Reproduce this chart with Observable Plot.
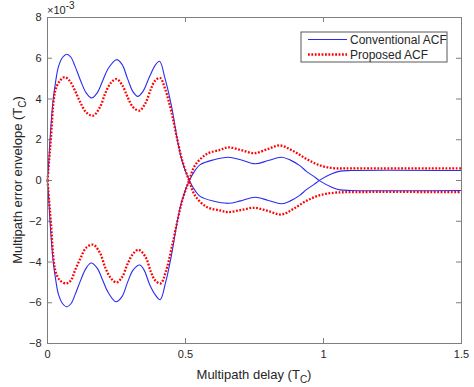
<!DOCTYPE html>
<html><head><meta charset="utf-8">
<script src="https://cdn.jsdelivr.net/npm/d3@7"></script>
<script src="https://cdn.jsdelivr.net/npm/@observablehq/plot@0.6"></script>
<style>body{margin:0;background:#fff}</style>
</head><body><div id="chart"></div>
<script>
// Multipath delay (Tc) and error envelope (x 1e-3 Tc)
const convAX = [0,0.005,0.01,0.02,0.03,0.04,0.055,0.07,0.085,0.1,0.12,0.14,0.16,0.18,0.2,0.22,0.25,0.27,0.29,0.31,0.327,0.345,0.37,0.39,0.406,0.426,0.45,0.471,0.487,0.514,0.535,0.553,0.6,0.655,0.7,0.752,0.8,0.848,0.88,0.914,0.938,0.965,0.988,1.03,1.06,1.1,1.5];
const convAY = [0,1.0,2.2,3.9,4.9,5.6,6.05,6.2,6.05,5.6,4.9,4.3,4.05,4.3,4.9,5.5,5.93,5.7,5.0,4.35,4.13,4.35,5.1,5.65,5.85,5.0,3.6,1.96,0.98,0,-0.5,-0.78,-1.01,-1.12,-1.0,-0.82,-0.98,-1.14,-1.0,-0.73,-0.45,-0.2,0.03,0.33,0.46,0.49,0.49];
const convBX = [0,0.005,0.01,0.02,0.03,0.04,0.055,0.069,0.085,0.1,0.12,0.14,0.158,0.18,0.2,0.22,0.248,0.27,0.29,0.31,0.334,0.35,0.37,0.39,0.408,0.428,0.45,0.471,0.487,0.514,0.535,0.553,0.6,0.655,0.7,0.752,0.8,0.848,0.88,0.914,0.938,0.965,0.988,1.03,1.06,1.1,1.5];
const convBY = [0,-1.0,-2.2,-3.9,-4.9,-5.6,-6.05,-6.2,-6.05,-5.6,-4.9,-4.3,-4.05,-4.3,-4.9,-5.5,-5.95,-5.7,-5.0,-4.4,-4.15,-4.4,-5.1,-5.6,-5.85,-5.0,-3.6,-1.96,-0.98,0,0.5,0.78,1.01,1.14,1.02,0.82,0.98,1.14,1.0,0.73,0.45,0.2,-0.03,-0.33,-0.46,-0.49,-0.49];
const propAX = [0,0.006,0.012,0.023,0.03,0.045,0.062,0.08,0.1,0.12,0.14,0.165,0.19,0.21,0.23,0.25,0.27,0.29,0.31,0.333,0.355,0.375,0.39,0.408,0.426,0.45,0.471,0.49,0.513,0.535,0.577,0.625,0.655,0.7,0.75,0.8,0.848,0.89,0.938,0.987,1.04,1.1,1.5];
const propAY = [0,1.0,2.0,4.0,4.5,4.9,5.07,4.9,4.4,3.8,3.35,3.18,3.6,4.3,4.8,4.98,4.7,4.1,3.6,3.43,3.8,4.5,4.9,5.03,4.5,3.3,1.96,0.9,0,-0.75,-1.3,-1.47,-1.55,-1.45,-1.34,-1.5,-1.67,-1.4,-1.0,-0.72,-0.6,-0.57,-0.57];
const propBX = [0,0.006,0.012,0.023,0.03,0.045,0.068,0.085,0.1,0.12,0.14,0.165,0.19,0.21,0.23,0.25,0.27,0.29,0.31,0.33,0.355,0.375,0.39,0.41,0.428,0.45,0.471,0.49,0.513,0.535,0.577,0.625,0.655,0.7,0.75,0.8,0.842,0.89,0.938,0.987,1.04,1.1,1.5];
const propBY = [0,-1.0,-2.0,-4.0,-4.5,-4.9,-5.05,-4.9,-4.4,-3.8,-3.3,-3.15,-3.55,-4.3,-4.8,-5.0,-4.75,-4.1,-3.6,-3.4,-3.75,-4.5,-4.9,-5.05,-4.5,-3.3,-1.96,-0.9,0,0.75,1.3,1.5,1.63,1.5,1.34,1.55,1.72,1.45,1.06,0.74,0.6,0.6,0.6];
const xTicks = [0,0.5,1,1.5];
const xTickLabels = ["0","0.5","1","1.5"];
const yTicks = [-8,-6,-4,-2,0,2,4,6,8];
const seriesNames = ["Conventional ACF","Proposed ACF"];

const rows = (xs, ys, series, trace) => xs.map((x,i)=>({x, y: ys[i], series, trace}));
const conv = [...rows(convAX,convAY,seriesNames[0],"A"), ...rows(convBX,convBY,seriesNames[0],"B")];
const prop = [...rows(propAX,propAY,seriesNames[1],"A"), ...rows(propBX,propBY,seriesNames[1],"B")];

const W=474,H=387,ML=47,MR=13,MT=17,MB=44;
const PW=W-ML-MR, PH=H-MT-MB;
const axisColor="#7f7f7f", textColor="#262626";
const blue="#2b2bf0", red="#ff0000";
const dash="1.8,1.6";

const plot = Plot.plot({
  width:W, height:H, marginLeft:ML, marginRight:MR, marginTop:MT, marginBottom:MB,
  x:{domain:[0,1.5]}, y:{domain:[-8,8]},
  style:{fontFamily:"'Liberation Sans', Arial, sans-serif", fontSize:"11px", color:textColor, background:"white"},
  marks:[
    Plot.axisX({ticks:xTicks, tickSize:0, tickPadding:7, tickFormat:(d)=>xTickLabels[xTicks.indexOf(d)], label:null}),
    Plot.axisY({ticks:yTicks, tickSize:0, tickPadding:6, label:null}),
    Plot.tickX(xTicks.slice(1,-1), {x:d=>d, insetTop:PH-5, stroke:axisColor}),
    Plot.tickX(xTicks.slice(1,-1), {x:d=>d, insetBottom:PH-5, stroke:axisColor}),
    Plot.tickY(yTicks.slice(1,-1), {y:d=>d, insetRight:PW-5, stroke:axisColor}),
    Plot.tickY(yTicks.slice(1,-1), {y:d=>d, insetLeft:PW-5, stroke:axisColor}),
    Plot.line(conv, {x:"x", y:"y", z:"trace", stroke:blue, strokeWidth:1.1, curve:"catmull-rom"}),
    Plot.line(prop, {x:"x", y:"y", z:"trace", stroke:red, strokeWidth:2.3, strokeDasharray:dash, strokeLinecap:"butt", curve:"catmull-rom"}),
    Plot.frame({stroke:axisColor})
  ]
});
document.getElementById("chart").appendChild(plot);

const svg = d3.select(plot);
const font = "'Liberation Sans', Arial, sans-serif";
// exponent
const ex = svg.append("text").attr("x",ML).attr("y",14).attr("text-anchor","start").attr("font-family",font).attr("font-size",11).attr("fill",textColor);
ex.append("tspan").text("\u00d710");
ex.append("tspan").attr("dy",-5).attr("font-size",10).text("-3");
// x label
const xl = svg.append("text").attr("x",ML+PW/2).attr("y",H-8).attr("text-anchor","middle").attr("font-family",font).attr("font-size",13).attr("fill",textColor);
xl.append("tspan").text("Multipath delay (T");
xl.append("tspan").attr("dy",4).attr("font-size",10).text("C");
xl.append("tspan").attr("dy",-4).text(")");
// y label
const yl = svg.append("text").attr("transform",`translate(22,${MT+PH/2}) rotate(-90)`).attr("text-anchor","middle").attr("font-family",font).attr("font-size",13).attr("fill",textColor);
yl.append("tspan").text("Multipath error envelope (T");
yl.append("tspan").attr("dy",4).attr("font-size",10).text("C");
yl.append("tspan").attr("dy",-4).text(")");
// legend
const lg = svg.append("g").attr("font-family",font).attr("font-size",12).attr("fill",textColor).attr("text-anchor","start");
lg.append("rect").attr("x",301).attr("y",32).attr("width",146).attr("height",30).attr("fill","white").attr("stroke","#595959");
lg.append("line").attr("x1",308).attr("x2",347).attr("y1",39.5).attr("y2",39.5).attr("stroke",blue).attr("stroke-width",1.1);
lg.append("line").attr("x1",308).attr("x2",347).attr("y1",54.5).attr("y2",54.5).attr("stroke",red).attr("stroke-width",2.3).attr("stroke-dasharray",dash);
lg.append("text").attr("x",350).attr("y",43.5).text(seriesNames[0]);
lg.append("text").attr("x",350).attr("y",58.5).text(seriesNames[1]);
</script></body></html>
